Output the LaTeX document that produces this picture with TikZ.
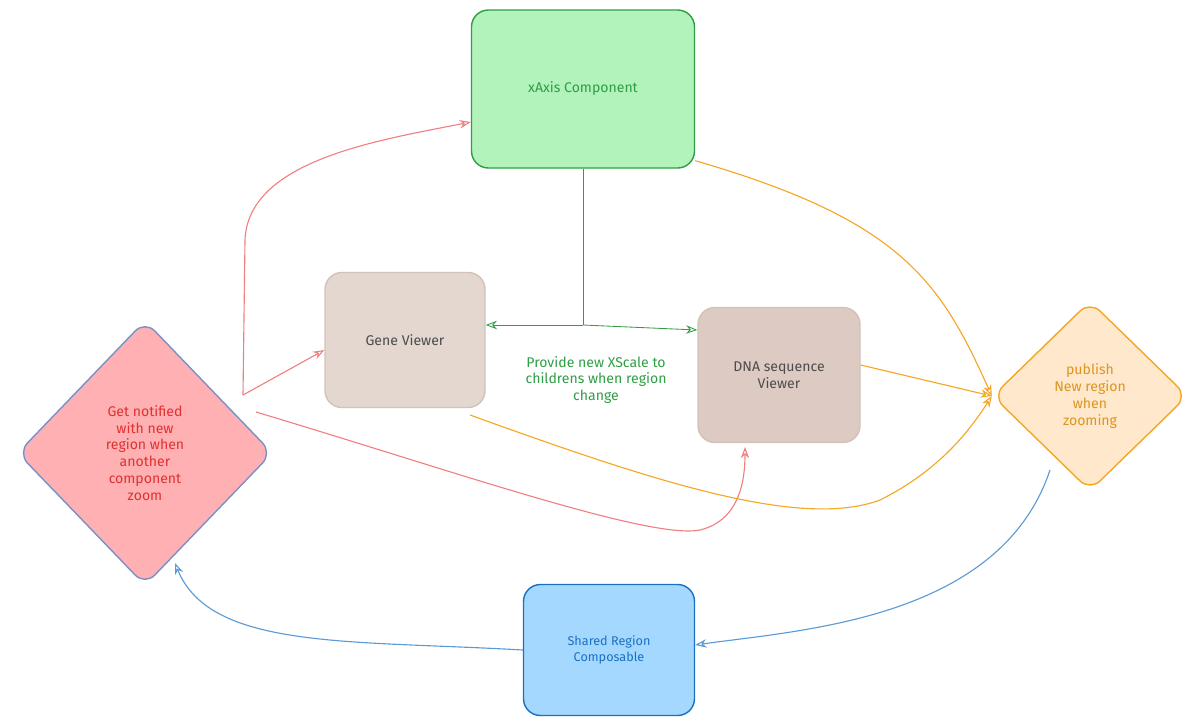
\documentclass[tikz,border=0pt]{standalone}
\usepackage{fontspec}
\setmainfont{Fira Sans}
\usetikzlibrary{shapes.geometric,arrows.meta}
\definecolor{gfill}{HTML}{B2F2BB}\definecolor{gline}{HTML}{2F9E44}
\definecolor{bfill}{HTML}{E3D7D0}\definecolor{bline}{HTML}{D3C2BA}
\definecolor{b2fill}{HTML}{DDCBC3}
\definecolor{ofill}{HTML}{FFE8CC}\definecolor{oline}{HTML}{F5A623}
\definecolor{rfill}{HTML}{FFB0B3}\definecolor{rline}{HTML}{7A90C8}
\definecolor{rarrow}{HTML}{F08080}\definecolor{rtext}{HTML}{E03131}
\definecolor{sfill}{HTML}{A5D8FF}\definecolor{sline}{HTML}{1971C2}
\definecolor{barrow}{HTML}{5B9BD5}
\begin{document}
\begin{tikzpicture}[x=0.025cm,y=-0.025cm,
 box/.style={draw,rounded corners=12pt,line width=1pt,align=center,font=\normalsize},
 dia/.style={draw,diamond,line width=1pt,align=center,font=\normalsize,rounded corners=10pt,inner sep=0pt},
 arr/.style={-{Stealth[length=8pt,width=6pt,open]},line width=0.8pt}]
\useasboundingbox (0,0) rectangle (1200,726);
\node[box,fill=gfill,draw=gline,text=gline,minimum width=223*0.025cm,minimum height=158*0.025cm] (x) at (583,89) {xAxis Component};
\node[box,fill=bfill,draw=bline,text=black!70,minimum width=160*0.025cm,minimum height=135*0.025cm] (g) at (405,340) {Gene Viewer};
\node[box,fill=b2fill,draw=bline,text=black!70,minimum width=162*0.025cm,minimum height=135*0.025cm] (d) at (779,375) {DNA sequence\\Viewer};
\node[dia,fill=ofill,draw=oline,text=oline!90!black,minimum width=195*0.025cm,minimum height=190*0.025cm] (p) at (1090,396) {publish\\New region\\when\\zooming};
\node[dia,fill=rfill,draw=rline,text=rtext,minimum width=255*0.025cm,minimum height=265*0.025cm] (n) at (145,453) {Get notified\\with new\\region when\\another\\component\\zoom};
\node[box,fill=sfill,draw=sline,text=sline,minimum width=171*0.025cm,minimum height=131*0.025cm,font=\small] (s) at (609,650) {Shared Region\\Composable};
\node[text=gline,align=center,font=\normalsize] (lbl) at (596,380) {Provide new XScale to\\childrens when region\\change};
\coordinate (r0) at (243,395);
\coordinate (j) at (583,325);
% red
\draw[arr,rarrow] (r0) -- (245,240) .. controls (248,160) and (380,140) .. (x.west|-0,122);
\draw[arr,rarrow] (r0) -- (g.west|-0,350);
\draw[arr,rarrow] (256,412) .. controls (450,470) and (650,540) .. (700,530) .. controls (740,520) and (745,480) .. (745,447);
% green
\draw[gline,line width=0.6pt] (x.south) -- (j);
\draw[arr,gline,line width=0.6pt] (j) -- (g.east|-j);
\draw[arr,gline,line width=0.6pt] (j) -- (d.west|-0,330);
% orange
\draw[arr,oline] (x.south east) ++(0,-8) .. controls (900,220) and (940,280) .. (p.west);
\draw[arr,oline] (d.east|-0,365) -- (p.west);
\draw[arr,oline] (470,415) .. controls (650,480) and (800,530) .. (880,500) .. controls (940,470) and (970,430) .. (p.west);
% blue
\draw[arr,barrow] (1050,470) .. controls (1000,620) and (800,630) .. (s.east|-0,645);
\draw[arr,barrow] (s.west|-0,650) .. controls (350,640) and (210,650) .. (175,563);
\end{tikzpicture}
\end{document}
